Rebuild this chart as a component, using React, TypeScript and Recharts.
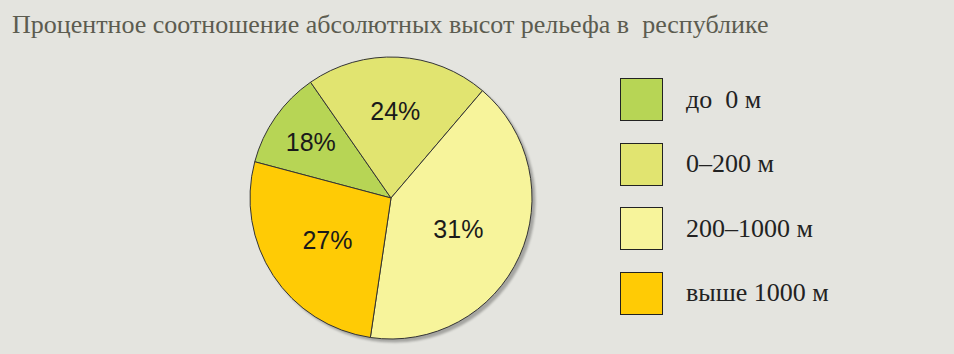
import React from 'react';
import { PieChart, Pie, Cell } from 'recharts';

// shares of the circle as drawn, and the printed labels
const categories = ['до  0 м', '0–200 м', '200–1000 м', 'выше 1000 м'];
const shares = [11.2, 20.9, 41.1, 26.8];
const labels = ['18%', '24%', '31%', '27%'];
const colors = ['#b7d555', '#e1e470', '#f7f49b', '#ffcb05'];

const BG = '#e4e4df';
const LABEL_R = [98, 87, 74, 76];
const RAD = Math.PI / 180;

const data = categories.map((name, i) => ({ name, value: shares[i], label: labels[i] }));

function SliceLabel(props: any) {
  const { cx, cy, midAngle, index } = props;
  const r = LABEL_R[index];
  const x = cx + r * Math.cos(-midAngle * RAD);
  const y = cy + r * Math.sin(-midAngle * RAD);
  return (
    <text
      x={x}
      y={y}
      textAnchor="middle"
      dominantBaseline="central"
      fill="#1a1a1a"
      style={{ fontFamily: 'Liberation Sans, Arial, sans-serif', fontSize: 25 }}
    >
      {labels[index]}
    </text>
  );
}

function LegendBox() {
  return (
    <div style={{ position: 'absolute', left: 620, top: 78, fontFamily: 'Liberation Serif, Times New Roman, serif' }}>
      {categories.map((c, i) => (
        <div key={c} style={{ display: 'flex', alignItems: 'center', height: 43, marginBottom: 21.5 }}>
          <div
            style={{
              width: 41,
              height: 41,
              background: colors[i],
              border: '1px solid #222',
              marginRight: 23,
            }}
          />
          <span style={{ fontSize: 26, color: '#222', whiteSpace: 'pre' }}>{c}</span>
        </div>
      ))}
    </div>
  );
}

export default function App() {
  return (
    <div style={{ position: 'fixed', left: 0, top: 0, width: 954, height: 354, background: BG }}>
      <style>{`.pie-shadow .recharts-pie { filter: drop-shadow(3px 3px 1px rgba(0,0,0,0.28)); }`}</style>
      <div
        style={{
          position: 'absolute',
          left: 12,
          top: 10,
          fontFamily: 'Liberation Serif, Times New Roman, serif',
          fontSize: 26,
          color: '#5c5c50',
          whiteSpace: 'pre',
        }}
      >
        {'Процентное соотношение абсолютных высот рельефа в  республике'}
      </div>
      <div className="pie-shadow" style={{ position: 'absolute', left: 0, top: 0 }}>
        <PieChart width={954} height={354} margin={{ top: 0, right: 0, bottom: 0, left: 0 }}>
          <Pie
            data={data}
            dataKey="value"
            nameKey="name"
            cx={391}
            cy={198}
            outerRadius={141}
            startAngle={165.1}
            endAngle={-194.9}
            stroke="#333"
            strokeWidth={1}
            label={SliceLabel}
            labelLine={false}
            isAnimationActive={false}
          >
            {data.map((d, i) => (
              <Cell key={d.name} fill={colors[i]} />
            ))}
          </Pie>
        </PieChart>
      </div>
      <LegendBox />
    </div>
  );
}
